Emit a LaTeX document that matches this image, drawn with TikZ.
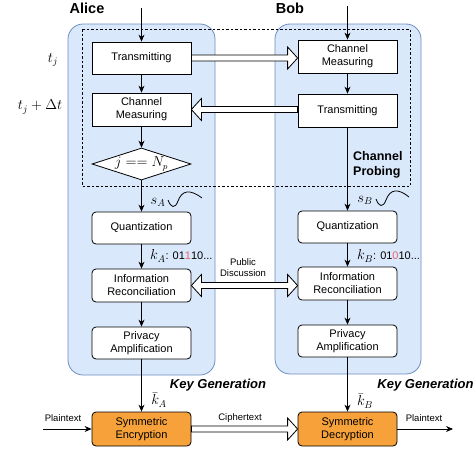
\documentclass[tikz,border=0pt]{standalone}
\usepackage{fontspec}
\setmainfont{Liberation Sans}
\usepackage{amsmath}
\usepackage{xcolor}
\usetikzlibrary{shapes.geometric,arrows.meta,calc}

\definecolor{panelfill}{RGB}{218,232,252}
\definecolor{paneldraw}{RGB}{108,142,191}
\definecolor{orangefill}{RGB}{247,161,58}
\definecolor{bitred}{RGB}{232,99,106}

% hollow wide arrow: #1 tail, #2 head, #3 = 1 (to the right) or -1 (to the left)
\newcommand{\flexarrow}[3]{%
  \draw[flex] ($(#1)+(0,-3)$) -- ($(#2)+({-10*#3},-3)$) -- ($(#2)+({-10*#3},-11)$) -- (#2)
    -- ($(#2)+({-10*#3},11)$) -- ($(#2)+({-10*#3},3)$) -- ($(#1)+(0,3)$) -- cycle;}
% hollow wide arrow with a head at both ends, #1 left, #2 right
\newcommand{\flexboth}[2]{%
  \draw[flex] (#1) -- ($(#1)+(10,-11)$) -- ($(#1)+(10,-3)$) -- ($(#2)+(-10,-3)$) -- ($(#2)+(-10,-11)$)
    -- (#2) -- ($(#2)+(-10,11)$) -- ($(#2)+(-10,3)$) -- ($(#1)+(10,3)$) -- ($(#1)+(10,11)$) -- cycle;}

\begin{document}
\begin{tikzpicture}[x=1pt,y=1pt,yscale=-1,
  box/.style={draw, fill=white, line width=0.8pt, minimum width=99pt, minimum height=32pt,
    inner sep=0pt, align=center, font=\fontsize{11}{13}\selectfont},
  rbox/.style={box, rounded corners=4pt},
  ebox/.style={rbox, fill=orangefill, minimum height=34pt},
  flow/.style={-{Stealth[length=7pt,width=6pt]}, line width=0.8pt},
  flex/.style={draw, fill=white, line width=0.8pt, line join=miter},
  panel/.style={draw=paneldraw, fill=panelfill, rounded corners=15pt, line width=0.8pt},
  lbl/.style={font=\fontsize{9.5}{11}\selectfont, inner sep=0pt, align=center},
  mlbl/.style={font=\fontsize{14}{16}\selectfont, inner sep=0pt},
  title/.style={font=\fontsize{14.5}{17}\selectfont\bfseries, inner sep=0pt},
  stage/.style={font=\fontsize{13}{15}\selectfont\bfseries\itshape, inner sep=0pt}]
\useasboundingbox (0,0) rectangle (474,471);

%Shape: Rounded Rect [id:alicepanel]
\draw [panel] (68,24) rectangle (215,375);
%Shape: Rounded Rect [id:bobpanel]
\draw [panel] (275,24) rectangle (421,374);
%Shape: Rectangle [id:probing]
\draw [line width=0.8pt, dash pattern={on 2.5pt off 2pt}] (82,29) rectangle (410,186);

% Alice side
\node [box] (aTx) at (141.5,58) {Transmitting};
\node [box, minimum height=33pt] (aMeas) at (141.5,109.5) {Channel\\Measuring};
\node [draw, diamond, fill=white, line width=0.8pt, minimum width=99pt, minimum height=32pt,
  inner sep=0pt, aspect=3, font=\fontsize{13.5}{15}\selectfont] (aDec) at (141.5,164) {$j == N_p$};
\node [rbox] (aQuant) at (141.5,228) {Quantization};
\node [rbox, minimum height=33pt] (aRec) at (141.5,285.5) {Information\\Reconciliation};
\node [rbox] (aPriv) at (141.5,343) {Privacy\\Amplification};
\node [ebox] (aEnc) at (141.5,429) {Symmetric\\Encryption};

% Bob side
\node [box, minimum height=33pt] (bMeas) at (347.5,56.5) {Channel\\Measuring};
\node [box, minimum height=33pt] (bTx) at (347.5,110.5) {Transmitting};
\node [rbox] (bQuant) at (347.5,227) {Quantization};
\node [rbox, minimum height=33pt] (bRec) at (347.5,283.5) {Information\\Reconciliation};
\node [rbox] (bPriv) at (347.5,341) {Privacy\\Amplification};
\node [ebox] (bDec) at (347.5,429) {Symmetric\\Decryption};

%Straight Lines
\coordinate (aIn) at (141.5,8);
\coordinate (bIn) at (347.5,6);
\coordinate (pIn) at (43,429);
\coordinate (pOut) at (453,429);
\draw [flow] (aIn) -- (aTx);
\draw [flow] (aTx) -- (aMeas);
\draw [flow] (aMeas) -- (aDec);
\draw [flow] (aDec) -- (aQuant);
\draw [flow] (aQuant) -- (aRec);
\draw [flow] (aRec) -- (aPriv);
\draw [flow] (aPriv) -- (aEnc);
\draw [flow] (bIn) -- (bMeas);
\draw [flow] (bMeas) -- (bTx);
\draw [flow] (bTx) -- (bQuant);
\draw [flow] (bQuant) -- (bRec);
\draw [flow] (bRec) -- (bPriv);
\draw [flow] (bPriv) -- (bDec);
\draw [flow] (pIn) -- (aEnc.west);
\draw [flow] (bDec.east) -- (pOut);

%Hollow Arrows
\coordinate (txHead) at (bMeas.west |- aTx.east);
\flexarrow{aTx.east}{txHead}{1}
\coordinate (rxTail) at (bTx.west |- aMeas.east);
\flexarrow{rxTail}{aMeas.east}{-1}
\coordinate (recRight) at (bRec.west |- aRec.east);
\flexboth{aRec.east}{recRight}
\flexarrow{aEnc.east}{bDec.west}{1}

%Curve Lines
\draw [line width=0.8pt] (168,200) .. controls (171,208) and (175,209) .. (178,201) .. controls (182,190) and (190,189) .. (202,198);
\draw [line width=0.8pt] (376,199) .. controls (379,207) and (383,208) .. (386,200) .. controls (390,189) and (398,188) .. (409,197);

% Text Node
\node [title] (alice) at (87,8) {Alice};
% Text Node
\node [title] (bob) at (290,8) {Bob};
% Text Node
\node [mlbl] (tA) at (53,60) {$t_j$};
% Text Node
\node [mlbl] (tB) at (40,107) {$t_j + \Delta t$};
% Text Node
\node [font=\fontsize{12.5}{15}\selectfont\bfseries, inner sep=0pt, align=left, anchor=west] (probe) at (353,165) {Channel\\Probing};
% Text Node
\node [mlbl] (sA) at (158,202) {$s_A$};
% Text Node
\node [mlbl] (sB) at (365,200) {$s_B$};
% Text Node
\node [inner sep=0pt, anchor=west, font=\fontsize{11}{13}\selectfont] (kA) at (150,256) {{\fontsize{14}{16}\selectfont$k_A$}: 01\textcolor{bitred}{1}10...};
% Text Node
\node [inner sep=0pt, anchor=west, font=\fontsize{11}{13}\selectfont] (kB) at (357,256) {{\fontsize{14}{16}\selectfont$k_B$}: 01\textcolor{bitred}{0}10...};
% Text Node
\node [lbl] (pub) at (243,268) {Public\\Discussion};
% Text Node
\node [stage] (genA) at (218,385) {Key Generation};
% Text Node
\node [stage] (genB) at (425.5,385) {Key Generation};
% Text Node
\node [mlbl] (kbA) at (159,400) {$\bar{k}_A$};
% Text Node
\node [mlbl] (kbB) at (365,401) {$\bar{k}_B$};
% Text Node
\node [lbl] (ptA) at (63,418) {Plaintext};
% Text Node
\node [lbl] (ptB) at (424,418) {Plaintext};
% Text Node
\node [lbl] (ct) at (240,418) {Ciphertext};

\end{tikzpicture}
\end{document}
